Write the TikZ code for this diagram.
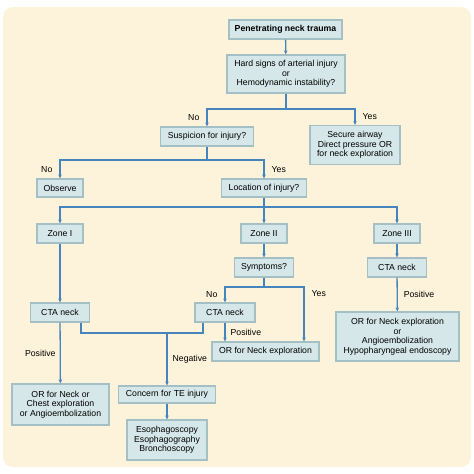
\documentclass[tikz,border=0pt]{standalone}
\usepackage{fontspec}
\setmainfont{Liberation Sans}
\usepackage{xcolor}
\usepackage{tikz}
\usetikzlibrary{arrows.meta,positioning,calc}
\definecolor{cream}{RGB}{253,242,218}
\definecolor{boxfill}{RGB}{214,231,233}
\definecolor{boxedge}{RGB}{165,192,196}
\definecolor{arrowblue}{RGB}{70,132,190}
\tikzset{
  box/.style={rectangle,draw=boxedge,line width=1.2pt,fill=boxfill,inner sep=1pt,
              align=center,font=\fontsize{8.7}{9.5}\selectfont},
  flow/.style={-{Stealth[length=4pt,width=3.5pt]},line width=1.3pt,draw=arrowblue},
  link/.style={line width=1.3pt,draw=arrowblue},
  lbl/.style={font=\fontsize{8.7}{9.5}\selectfont,inner sep=2pt},
}

\begin{document}
\begin{tikzpicture}[x=1pt,y=-1pt]
  \useasboundingbox (0,0) rectangle (474,474);
  \fill[white] (0,0) rectangle (474,474);
  \fill[cream,rounded corners=10pt] (3,7) rectangle (471,467);

  \node[box,minimum width=113pt,minimum height=19pt] (trauma) at (285.5,29.5) {\textbf{Penetrating neck trauma}};
  \node[box,minimum width=118pt,minimum height=38pt] (hard) at (286,74) {Hard signs of arterial injury\\or\\Hemodynamic instability?};
  \node[box,minimum width=93pt,minimum height=19pt] (susp) at (207,136.5) {Suspicion for injury?};
  \node[box,minimum width=90pt,minimum height=39pt] (secure) at (355,145) {Secure airway\\Direct pressure OR\\for neck exploration};
  \node[box,minimum width=46pt,minimum height=18pt] (observe) at (60,188) {Observe};
  \node[box,minimum width=85pt,minimum height=18pt] (loc) at (264,188) {Location of injury?};
  \node[box,minimum width=46pt,minimum height=19pt] (zone1) at (60,233.5) {Zone I};
  \node[box,minimum width=46pt,minimum height=19pt] (zone2) at (264,233.5) {Zone II};
  \node[box,minimum width=46pt,minimum height=19pt] (zone3) at (397,233.5) {Zone III};
  \node[box,minimum width=59pt,minimum height=19pt] (symp) at (264,267.5) {Symptoms?};
  \node[box,minimum width=59pt,minimum height=19pt] (cta3) at (397,267.5) {CTA neck};
  \node[box,minimum width=59pt,minimum height=19pt] (cta1) at (60,312.5) {CTA neck};
  \node[box,minimum width=60pt,minimum height=19pt] (cta2) at (225,312.5) {CTA neck};
  \node[box,minimum width=107pt,minimum height=19pt] (orx) at (265.5,351.5) {OR for Neck exploration};
  \node[box,minimum width=123pt,minimum height=49pt] (orright) at (397.5,336.5) {OR for Neck exploration\\or\\Angioembolization\\Hypopharyngeal endoscopy};
  \node[box,minimum width=97pt,minimum height=41pt] (orchest) at (60.5,404.5) {OR for Neck or\\Chest exploration\\or Angioembolization};
  \node[box,minimum width=97pt,minimum height=17pt] (concern) at (167,394.5) {Concern for TE injury};
  \node[box,minimum width=80pt,minimum height=40pt] (eso) at (167,440) {Esophagoscopy\\Esophagography\\Bronchoscopy};

  % junctions
  \coordinate (j1) at (286,109);
  \coordinate (j2) at (207,160);
  \coordinate (j3) at (264,207);
  \coordinate (j4) at (264,287);
  \coordinate (j5) at (304,287);
  \coordinate (n1) at (81,333);
  \coordinate (n2) at (203,333);
  \coordinate (n3) at (167,333);

  \draw[flow] (trauma) -- (hard);
  \draw[link] (hard) -- (j1);
  \draw[flow] (j1) -| node[lbl,pos=0.75,left=5pt]{No} (susp);
  \draw[flow] (j1) -| node[lbl,pos=0.75,right=5pt]{Yes} (secure);

  \draw[link] (susp) -- (j2);
  \draw[flow] (j2) -| node[lbl,pos=0.75,left=5pt]{No} (observe);
  \draw[flow] (j2) -| node[lbl,pos=0.75,right=5pt]{Yes} (loc);

  \draw[link] (loc) -- (j3);
  \draw[flow] (j3) -| (zone1);
  \draw[flow] (j3) -- (zone2);
  \draw[flow] (j3) -| (zone3);

  \draw[flow] (zone2) -- (symp);
  \draw[flow] (zone3) -- (cta3);
  \draw[flow] (cta3) -- node[lbl,right=4pt]{Positive} (orright);

  \draw[link] (symp) -- (j4);
  \draw[flow] (j4) -| node[lbl,pos=0.75,left=5pt]{No} (cta2);
  \draw[flow] (j4) -- (j5) -- node[lbl,pos=0.12,right=5pt]{Yes} (j5 |- orx.north);

  \draw[flow] (zone1) -- (cta1);
  \draw[flow] (cta1) -- node[lbl,left=2pt]{Positive} (orchest);
  \draw[flow] (cta2) -- node[lbl,right=3pt]{Positive} (cta2 |- orx.north);

  \draw[link] (cta1.south -| n1) -- (n1) -- (n2) -- (cta2.south -| n2);
  \draw[flow] (n3) -- node[lbl,right=3pt]{Negative} (concern);
  \draw[flow] (concern) -- (eso);
\end{tikzpicture}
\end{document}
